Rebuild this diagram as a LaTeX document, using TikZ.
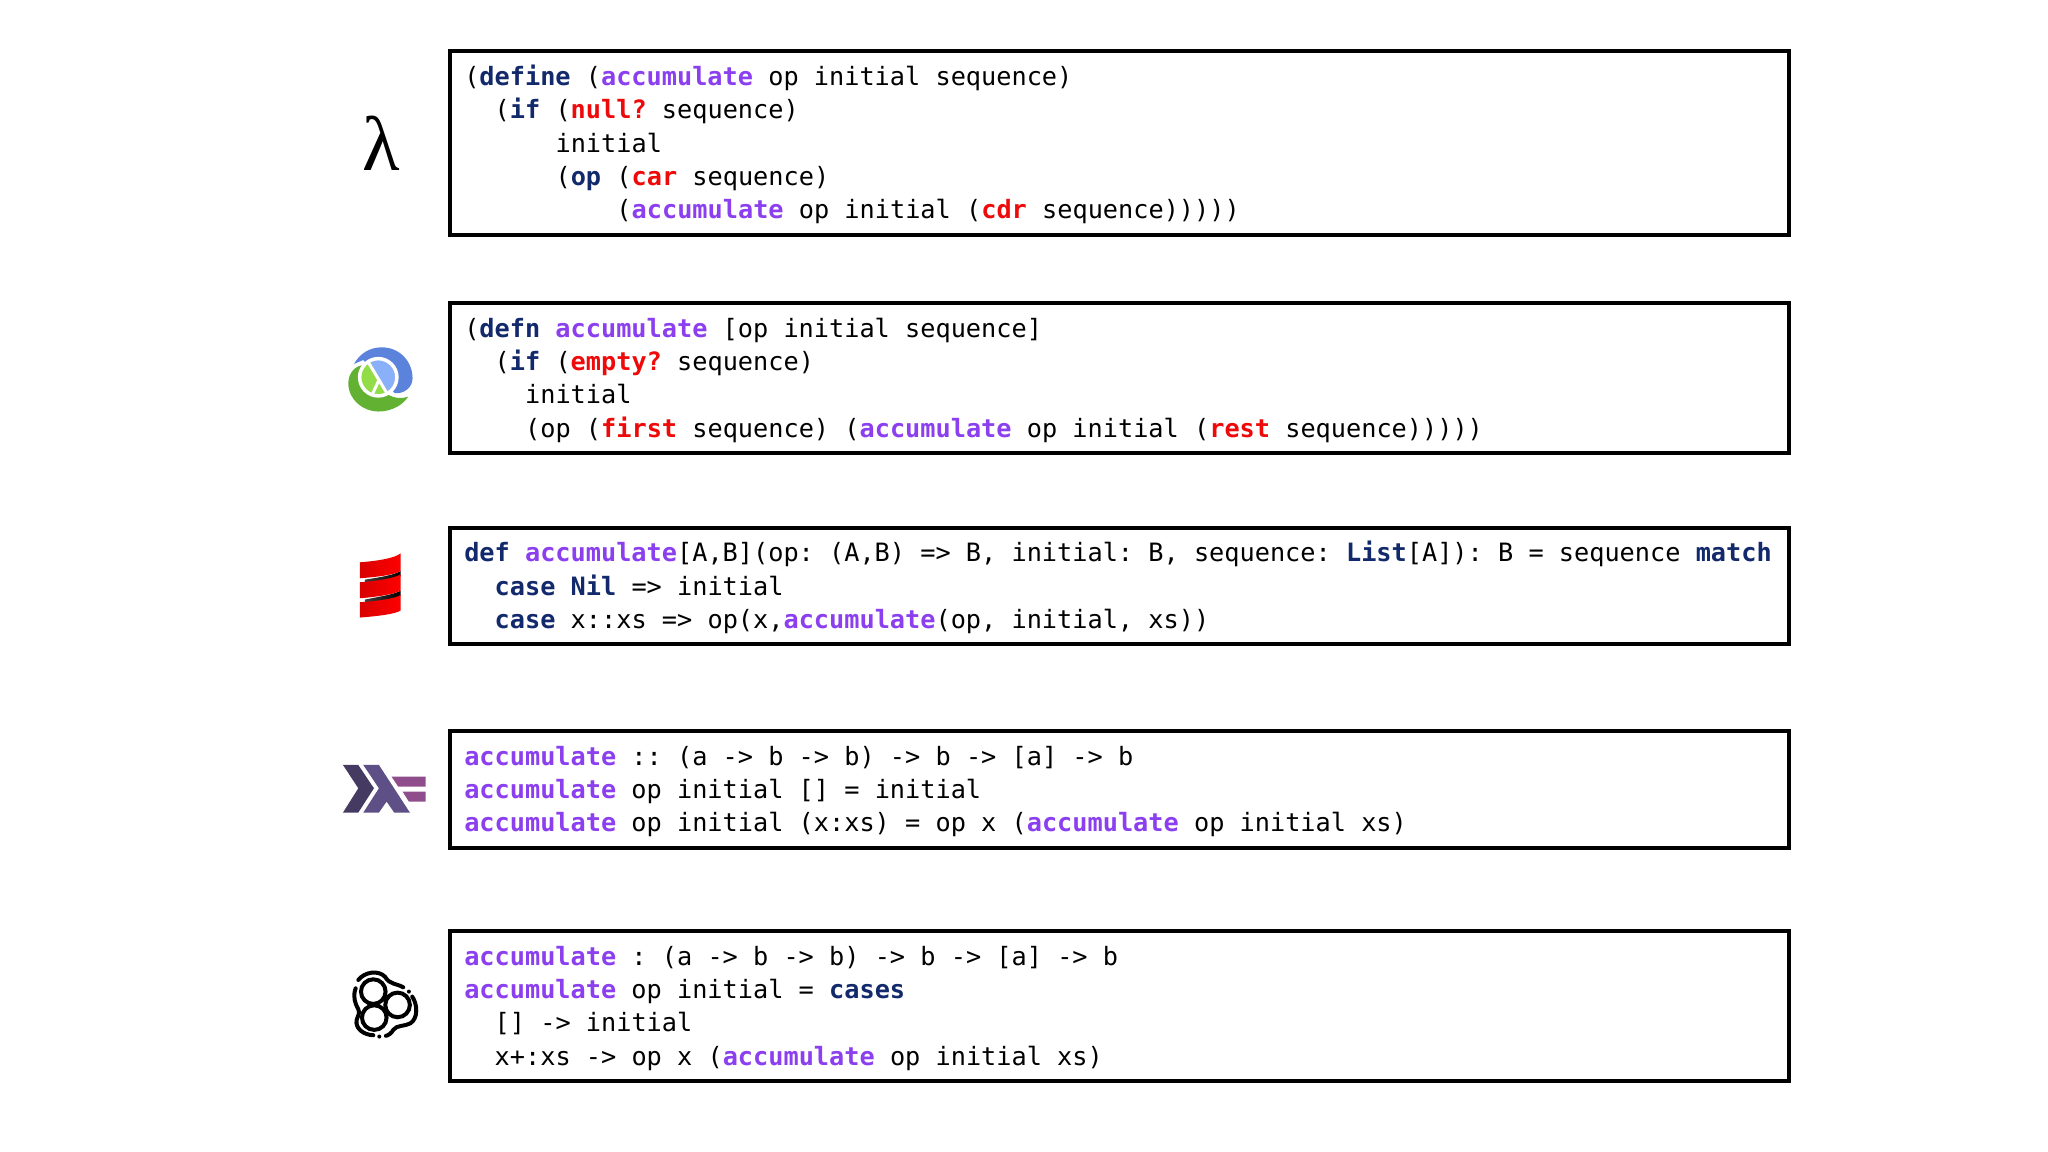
\documentclass[tikz,border=0pt]{standalone}
\usepackage{fontspec}
\setmonofont[Kerning=Off]{DejaVu Sans Mono}
\newfontfamily\lambdafont{Liberation Serif}
\usepackage{tikz}
\usetikzlibrary{positioning}

\definecolor{kwblue}{HTML}{12296B}
\definecolor{fnpurple}{HTML}{8B3FEE}
\definecolor{bired}{HTML}{EE0A0A}
\definecolor{cljblue}{HTML}{5B83DB}
\definecolor{cljlblue}{HTML}{8BB0FA}
\definecolor{cljgreen}{HTML}{63B132}
\definecolor{cljlgreen}{HTML}{91DC47}
\definecolor{hsdark}{HTML}{453A62}
\definecolor{hsmid}{HTML}{5E5086}
\definecolor{hslight}{HTML}{8F4E8B}

\newcommand{\kw}[1]{\textcolor{kwblue}{\textbf{#1}}}
\newcommand{\fn}[1]{\textcolor{fnpurple}{\textbf{#1}}}
\newcommand{\bi}[1]{\textcolor{bired}{\textbf{#1}}}
\newcommand{\ind}[1]{\hspace*{#1\dimexpr0.1521cm\relax}}

\tikzset{
	codebox/.style={draw=black, line width=0.04cm, rectangle, anchor=north west, outer sep=0pt,
		minimum width=13.385cm, text width=13.10cm, inner xsep=0.14cm, inner ysep=0cm, align=left,
		font=\fontsize{7.18pt}{9.45pt}\selectfont\ttfamily,
		execute at begin node={\setlength{\spaceskip}{0.1521cm}\setlength{\xspaceskip}{0.1521cm}\leavevmode\rule{0pt}{6.7pt}}},
	zoomed/.style={x=0.003333cm, y=-0.003333cm},
	unisonline/.style={draw=black, line width=0.04cm, line cap=round},
}

\begin{document}
\begin{tikzpicture}[x=0.01cm,y=-0.01cm]

	% Proper size --- Bounding box
	\useasboundingbox (0,0) rectangle (2048,1152);

	% code boxes
	\node[codebox, minimum height=1.84cm] (schemebox) at (450,51) {%
(\kw{define} (\fn{accumulate} op initial sequence)\\
\ind{2}(\kw{if} (\bi{null?} sequence)\\
\ind{6}initial\\
\ind{6}(\kw{op} (\bi{car} sequence)\\
\ind{10}(\fn{accumulate} op initial (\bi{cdr} sequence)))))};

	\node[codebox, minimum height=1.50cm] (clojurebox) at (450,303) {%
(\kw{defn} \fn{accumulate} [op initial sequence]\\
\ind{2}(\kw{if} (\bi{empty?} sequence)\\
\ind{4}initial\\
\ind{4}(op (\bi{first} sequence) (\fn{accumulate} op initial (\bi{rest} sequence)))))};

	\node[codebox, minimum height=1.16cm] (scalabox) at (450,528) {%
\kw{def} \fn{accumulate}[A,B](op: (A,B) => B, initial: B, sequence: \kw{List}[A]): B = sequence \kw{match}\\
\ind{2}\kw{case} \kw{Nil} => initial\\
\ind{2}\kw{case} x::xs => op(x,\fn{accumulate}(op, initial, xs))};

	\node[codebox, minimum height=1.17cm] (haskellbox) at (450,731) {%
\fn{accumulate} :: (a -> b -> b) -> b -> [a] -> b\\
\fn{accumulate} op initial [] = initial\\
\fn{accumulate} op initial (x:xs) = op x (\fn{accumulate} op initial xs)};

	\node[codebox, minimum height=1.50cm] (unisonbox) at (450,931) {%
\fn{accumulate} : (a -> b -> b) -> b -> [a] -> b\\
\fn{accumulate} op initial = \kw{cases}\\
\ind{2}[] -> initial\\
\ind{2}x+:xs -> op x (\fn{accumulate} op initial xs)};

	% Lambda
	\node[font=\fontsize{22pt}{22pt}\lambdafont] (lambdalogo) at (381,143) {λ};

	% Clojure logo
	\begin{scope}[shift={(340,340)}, zoomed]
		\fill[cljblue] (42,72) .. controls (60,40) and (90,22) .. (125,22)
			.. controls (180,22) and (218,65) .. (218,115)
			.. controls (218,145) and (190,162) .. (165,160) -- (115,112) -- (70,60) -- cycle;
		\fill[cljgreen] (75,75) .. controls (45,75) and (25,100) .. (25,130)
			.. controls (25,180) and (70,215) .. (115,215)
			.. controls (155,215) and (190,195) .. (205,170)
			.. controls (185,178) and (165,175) .. (145,165) -- (115,112) -- cycle;
		\begin{scope}
			\clip (115,112) circle (54);
			\fill[cljlblue] (115,112) circle (54);
			\fill[cljlgreen] (40,40) -- (75,40) -- (160,185) -- (40,185) -- cycle;
			\draw[white, line width=0.03cm] (75,50) -- (150,175);
			\draw[white, line width=0.03cm] (118,118) -- (92,175);
		\end{scope}
		\draw[white, line width=0.035cm] (115,112) circle (56);
	\end{scope}

	% Scala logo
	\begin{scope}[shift={(340,545)}, zoomed]
		\shade[left color=darkgray, right color=black] (75,104) .. controls (115,98) and (165,90) .. (182,78)
			-- (182,94) .. controls (165,104) and (115,110) .. (75,112) -- cycle;
		\shade[left color=darkgray, right color=black] (75,164) .. controls (115,156) and (165,148) .. (182,137)
			-- (182,153) .. controls (165,162) and (115,170) .. (75,172) -- cycle;
		\shade[left color=red!85!black, right color=red] (60,52) .. controls (110,48) and (165,40) .. (182,25)
			-- (182,78) .. controls (165,90) and (110,96) .. (60,100) -- cycle;
		\shade[left color=red!85!black, right color=red] (60,112) .. controls (110,108) and (165,100) .. (182,88)
			-- (182,137) .. controls (165,148) and (110,156) .. (60,160) -- cycle;
		\shade[left color=red!85!black, right color=red] (60,172) .. controls (110,168) and (165,162) .. (182,150)
			-- (182,197) .. controls (165,208) and (110,214) .. (60,218) -- cycle;
	\end{scope}

	% Haskell logo
	\begin{scope}[shift={(335,750)}, zoomed]
		\fill[hsdark] (24,45) -- (70,45) -- (117,115) -- (70,188) -- (24,188) -- (70,115) -- cycle;
		\fill[hsmid] (85,45) -- (132,45) -- (225,188) -- (178,188) -- (155,155) -- (132,188)
			-- (85,188) -- (132,115) -- cycle;
		\fill[hslight] (170,80) -- (272,80) -- (272,110) -- (190,110) -- cycle;
		\fill[hslight] (203,125) -- (272,125) -- (272,155) -- (222,155) -- cycle;
	\end{scope}

	% Unison logo
	\begin{scope}[shift={(340,960)}, zoomed]
		\draw[unisonline] (100,95) circle (37);
		\draw[unisonline] (173,135) circle (37);
		\draw[unisonline] (103,173) circle (37);
		\draw[unisonline] (55,60) .. controls (75,35) and (115,30) .. (135,50)
			.. controls (150,75) and (170,70) .. (190,82);
		\draw[unisonline] (217,110) .. controls (234,135) and (234,175) .. (212,190)
			.. controls (195,200) and (170,195) .. (160,210) .. controls (155,220) and (145,226) .. (138,228);
		\draw[unisonline] (100,226) .. controls (70,225) and (45,205) .. (50,180)
			.. controls (55,165) and (60,160) .. (55,148) .. controls (45,130) and (38,110) .. (47,85);
		\fill (207,95) circle (6);
		\fill (118,230) circle (6);
	\end{scope}
\end{tikzpicture}
\end{document}
